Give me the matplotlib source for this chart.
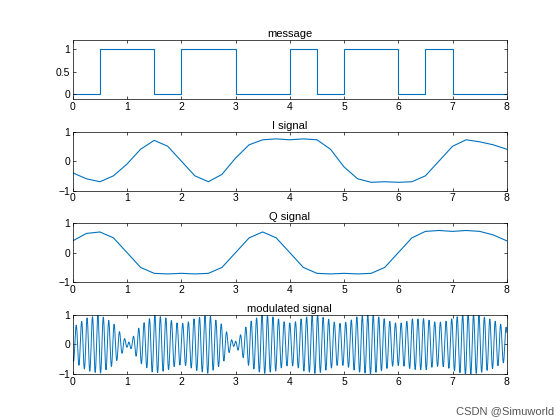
import numpy as np
import matplotlib
matplotlib.use("Agg")
import matplotlib.pyplot as plt

# message bits, one per 0.5 s
bits = [0, 1, 1, 0, 1, 1, 0, 0, 1, 0, 1, 1, 0, 1, 0, 0]
bit_time = 0.5

t_iq = np.arange(0, 8.001, 0.25)
i_sig = [-0.4, -0.6, -0.7, -0.5, -0.1, 0.4, 0.7, 0.5, 0.0, -0.5, -0.7, -0.45, 0.1,
         0.55, 0.72, 0.75, 0.72, 0.75, 0.72, 0.4, -0.2, -0.6, -0.72, -0.7, -0.72,
         -0.7, -0.5, 0.0, 0.5, 0.72, 0.65, 0.55, 0.4]
q_sig = [0.4, 0.65, 0.7, 0.5, 0.0, -0.5, -0.7, -0.72, -0.7, -0.72, -0.7, -0.5, 0.0,
         0.5, 0.7, 0.5, 0.0, -0.5, -0.7, -0.72, -0.7, -0.72, -0.7, -0.5, 0.0, 0.5,
         0.72, 0.75, 0.72, 0.75, 0.72, 0.6, 0.4]
carrier_hz = 10.0

blue = "#0072BD"
plt.rcParams["font.family"] = ["Liberation Sans", "DejaVu Sans"]
plt.rcParams["font.size"] = 7.5

fig, axes = plt.subplots(4, 1, figsize=(5.6, 4.2), dpi=100)
fig.subplots_adjust(left=0.13, right=0.905, top=0.905, bottom=0.11, hspace=0.55)

# message as stairs
edges = np.arange(len(bits) + 1) * bit_time
axes[0].stairs(bits, edges, color=blue, lw=0.8)
axes[0].set_ylim(-0.1, 1.2)
axes[0].set_yticks([0, 0.5, 1])
axes[0].set_yticklabels(["0", "0.5", "1"])
axes[0].set_title("message", fontsize=8, pad=2)

axes[1].plot(t_iq, i_sig, color=blue, lw=0.8)
axes[1].set_title("I signal", fontsize=8, pad=2)
axes[2].plot(t_iq, q_sig, color=blue, lw=0.8)
axes[2].set_title("Q signal", fontsize=8, pad=2)

t = np.linspace(0, 8, 4000)
mod = (np.interp(t, t_iq, i_sig) * np.cos(2 * np.pi * carrier_hz * t)
       - np.interp(t, t_iq, q_sig) * np.sin(2 * np.pi * carrier_hz * t))
axes[3].plot(t, mod, color=blue, lw=0.7)
axes[3].set_title("modulated signal", fontsize=8, pad=2)

for ax in axes[1:]:
    ax.set_ylim(-1, 1)
    ax.set_yticks([-1, 0, 1])
for ax in axes:
    ax.set_xlim(0, 8)
    ax.set_xticks(range(9))
    ax.tick_params(direction="in", length=2, width=0.5, top=True, right=True, pad=2)
    for s in ax.spines.values():
        s.set_linewidth(0.5)

fig.text(0.99, 0.01, "CSDN @Simuworld", ha="right", va="bottom", fontsize=8, color="#555555")
fig.savefig("out.png", dpi=100)
